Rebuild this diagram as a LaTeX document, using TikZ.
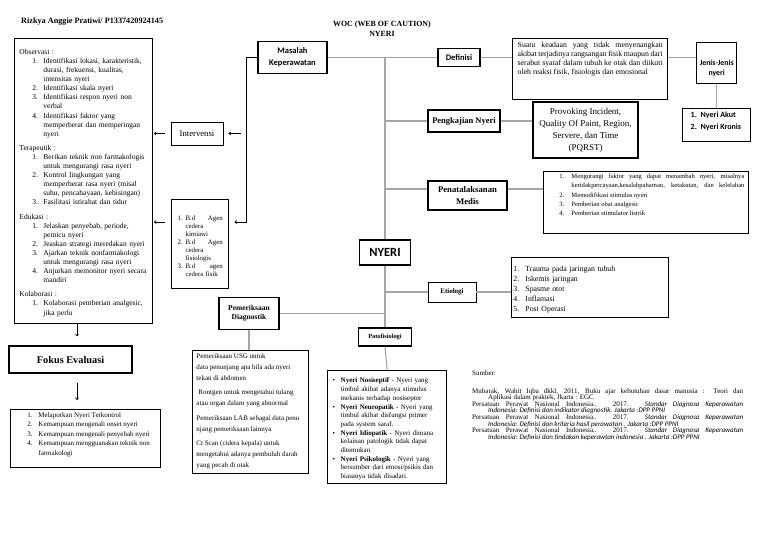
\documentclass[tikz,border=0pt]{standalone}
\usepackage{fontspec}
\setmainfont{Liberation Serif}
\newfontfamily\calibri{Carlito}
\usetikzlibrary{arrows.meta}
\definecolor{linegray}{RGB}{165,165,165}
\newcommand{\fsz}[2]{\fontsize{#1}{#2}\selectfont}
\newlength{\listind}
\newlength{\numw}
\newcommand{\lsec}[1]{\par\leftskip=0pt\noindent#1}
\newcommand{\litem}[2]{\par\leftskip=\listind\noindent\llap{\makebox[\numw][l]{#1}}#2}
\newcommand{\topfill}[3]{\begin{minipage}[c][#2][t]{#1}#3\end{minipage}}
\newcommand{\refit}[1]{{\calibri\itshape #1}}

\begin{document}
\begin{tikzpicture}[x=1pt, y=-1pt,
  box/.style={draw, line width=0.9pt, inner sep=0pt},
  boldbox/.style={draw, line width=1.4pt, inner sep=0pt},
  gline/.style={draw=linegray, line width=1.1pt},
  bline/.style={draw=black, line width=0.7pt},
  arr/.style={bline, -{To[length=2.6pt,width=3.6pt]}}]
\useasboundingbox (0,0) rectangle (768,543);

% header
\node[anchor=west, inner sep=0pt, font=\bfseries\fsz{8.2}{10}] (author) at (21,22) {Rizkya Anggie Pratiwi/ P1337420924145};
\node[align=center, font=\bfseries\fsz{7.9}{10}] (title) at (382,29) {WOC (WEB OF CAUTION)\\NYERI};

% main column
\node[boldbox, minimum width=69pt, minimum height=32pt, align=center, font=\calibri\bfseries\fsz{8.5}{12}] (masalah) at (292.5,57.5) {Masalah\\Keperawatan};
\node[boldbox, minimum width=42pt, minimum height=18pt, font=\calibri\bfseries\fsz{8.5}{10}] (defn) at (459,57.5) {Definisi};
\node[boldbox, anchor=north west, inner xsep=5pt, inner ysep=0pt, font=\fsz{7.8}{9}] (suatu) at (512,38) {\topfill{145pt}{61pt}{\vspace*{3pt}Suatu keadaan yang tidak menyenangkan\linebreak akibat terjadinya rangsangan fisik maupun dari\linebreak serabut syaraf dalam tubuh ke otak dan diikuti\linebreak oleh reaksi fisik, fisiologis dan emosional}};
\node[boldbox, anchor=north west, font=\calibri\bfseries\fsz{7.8}{10}] (jenis) at (696,42) {\topfill{40pt}{41pt}{\vspace*{17pt}\centering Jenis-Jenis\\nyeri\par}};
\node[boldbox, anchor=north west, inner xsep=8pt, inner ysep=0pt, font=\calibri\bfseries\fsz{8}{12}] (akut) at (682,108) {\topfill{52pt}{33pt}{\vspace*{3pt}\setlength{\listind}{10pt}\setlength{\numw}{10pt}%
\litem{1.}{Nyeri Akut}
\litem{2.}{Nyeri Kronis}\par}};
\node[boldbox, minimum width=72pt, minimum height=22pt, font=\bfseries\fsz{8.5}{10}] (pengkajian) at (464,121) {Pengkajian Nyeri};
\node[boldbox, minimum width=105pt, minimum height=56pt, align=center, font=\fsz{9}{12}] (pqrst) at (585.5,130) {Provoking Incident,\\Quality Of Paint, Region,\\Servere, dan Time\\(PQRST)};
\node[boldbox, minimum width=79pt, minimum height=29pt, align=center, font=\bfseries\fsz{8.7}{12}] (pmedis) at (467.5,195.5) {Penatalaksanan\\Medis};
\node[box, anchor=north west, inner xsep=4pt, inner ysep=0pt, font=\fsz{6.6}{9.3}] (medlist) at (543,171) {\topfill{197pt}{62pt}{\vspace*{2.5pt}\setlength{\listind}{24pt}\setlength{\numw}{12pt}%
\litem{1.}{{\parfillskip=0pt Mengurangi faktor yang dapat menambah nyeri, misalnya\linebreak keridakpercayaan,kesalahpahaman, ketakutan, dan kelelahan\par}}
\litem{2.}{Memodifikasi stimulus nyeri}
\litem{3.}{Pemberian obat analgesic}
\litem{4.}{Pemberian stimulator listrik}\par}};
\node[boldbox, minimum width=51pt, minimum height=25pt, font=\calibri\bfseries\fsz{12.5}{14}] (nyeri) at (385,252.5) {NYERI};
\node[box, minimum width=48pt, minimum height=20pt, font=\bfseries\fsz{7}{9}] (etio) at (452,292) {Etiologi};
\node[box, anchor=north west, text width=153pt, minimum height=60pt, inner xsep=2pt, inner ysep=0pt, align=left, font=\fsz{7.8}{10}] (etiolist) at (511,257) {\setlength{\listind}{12pt}\setlength{\numw}{12pt}%
\litem{1.}{Trauma pada jaringan tubuh}
\litem{2.}{Iskemis jaringan}
\litem{3.}{Spasme otot}
\litem{4.}{Inflamasi}
\litem{5.}{Post Operasi}\par};
\node[boldbox, minimum width=60pt, minimum height=32pt, align=center, font=\bfseries\fsz{7.5}{9}] (periksa) at (249,313.5) {Pemeriksaan\\Diagnostik};
\node[box, anchor=north west, inner xsep=4pt, inner ysep=0pt, font=\fsz{7}{11}] (periksalist) at (192,350) {\topfill{108pt}{123pt}{\vspace*{3pt}Pemeriksaan USG untuk\\ data penunjang apa bila ada nyeri\\ tekan di abdomen\par\vspace{3.5pt}
\hspace*{2pt}Rontgen untuk mengetahui tulang\\ atau organ dalam yang abnormal\par\vspace{3.5pt}
Pemeriksaan LAB sebagai data penu\\ njang pemeriksaan lainnya\par\vspace{3.5pt}
Ct Scan (cidera kepala) untuk\\ mengetahui adanya pembuluh darah\\ yang pecah di otak}};
\node[boldbox, minimum width=53pt, minimum height=18pt, font=\bfseries\fsz{6.3}{8}] (pato) at (385,337) {Patofisiologi};
\node[boldbox, anchor=north west, text width=109pt, minimum height=113pt, inner xsep=5pt, inner ysep=0pt, align=left, font=\fsz{7}{8.7}] (patolist) at (327,370) {\setlength{\listind}{8pt}\setlength{\numw}{8pt}%
\litem{\textbullet}{\textbf{Nyeri Nosiseptif} - Nyeri yang\\ timbul akibat adanya stimulus\\ mekanis terhadap nosiseptor}
\litem{\textbullet}{\textbf{Nyeri Neuropatik} - Nyeri yang\\ timbul akibat disfungsi primer\\ pada system saraf.}
\litem{\textbullet}{\textbf{Nyeri Idiopatik} - Nyeri dimana\\ kelainan patologik tidak dapat\\ ditemukan}
\litem{\textbullet}{\textbf{Nyeri Psikologik} - Nyeri yang\\ bersumber dari emosi/psikis dan\\ biasanya tidak disadari.}\par};

% left column
\node[box, anchor=north west, text width=128pt, minimum height=285pt, inner xsep=5pt, inner ysep=0pt, align=left, font=\fsz{7.5}{9.1}] (leftbox) at (14,38) {\setlength{\listind}{24pt}\setlength{\numw}{11pt}%
\lsec{Observasi :}
\litem{1.}{Identifikasi lokasi, karakteristik,\\ durasi, frekuensi, kualitas,\\ intensitas nyeri}
\litem{2.}{Identifikasi skala nyeri}
\litem{3.}{Identifikasi respon nyeri non\\ verbal}
\litem{4.}{Identifikasi faktor yang\\ memperberat dan memperingan\\ nyeri}
\par\vspace{5pt}
\lsec{Terapeutik :}
\litem{1.}{Berikan teknik non farmakologis\\ untuk mengurangi rasa nyeri}
\litem{2.}{Kontrol lingkungan yang\\ memperberat rasa nyeri (misal\\ suhu, pencahayaan, kebisingan)}
\litem{3.}{Fasilitasi istirahat dan tidur}
\par\vspace{5pt}
\lsec{Edukasi :}
\litem{1.}{Jelaskan penyebab, periode,\\ pemicu nyeri}
\litem{2.}{Jeaskan strategi meredakan nyeri}
\litem{3.}{Ajarkan teknik nonfarmakologi\\ untuk mengurangi rasa nyeri}
\litem{4.}{Anjurkan memonitor nyeri secara\\ mandiri}
\par\vspace{5pt}
\lsec{Kolaborasi :}
\litem{1.}{Kolaborasi pemberian analgesic,\\ jika perlu}\par};
\node[box, minimum width=52pt, minimum height=23pt, font=\fsz{8.7}{10}] (interv) at (197,133.5) {Intervensi};
\node[boldbox, anchor=north west, text width=45pt, minimum height=89pt, inner xsep=6pt, inner ysep=0pt, align=left, font=\fsz{6.8}{8}] (diag) at (171,199) {\setlength{\listind}{8pt}\setlength{\numw}{8pt}%
\litem{1.}{B.d\hfill Agen\\ cedera\\ kimiawi}
\litem{2.}{B.d\hfill Agen\\ cedera\\ fisiologis}
\litem{3.}{B.d\hfill agen\\ cedera fisik}\par};
\node[boldbox, minimum width=123pt, minimum height=27pt, font=\bfseries\fsz{10.3}{12}] (fokus) at (70.5,359.5) {Fokus Evaluasi};
\node[box, anchor=north west, inner xsep=4pt, inner ysep=0pt, font=\fsz{7}{9.5}] (evallist) at (10,409) {\topfill{142pt}{58pt}{\vspace*{3pt}\raggedright\setlength{\listind}{24pt}\setlength{\numw}{11pt}%
\litem{1.}{Melaporkan Nyeri Terkontrol}
\litem{2.}{Kemampuan mengenali onset nyeri}
\litem{3.}{Kemampuan mengenali penyebab nyeri}
\litem{4.}{Kemampuan mengguanakan teknik non\\ farmakologi}\par}};

% sources
\node[anchor=west, inner sep=0pt, font=\fsz{7}{8}] (sumber) at (472,373) {Sumber:};
\node[anchor=north west, text width=271pt, inner sep=0pt, align=justify, font=\fsz{7}{6.6}] (refs) at (472,388) {\lineskiplimit=-5pt
\noindent\hangindent=16pt\hangafter=1 Mubarak, Wahit Iqba dkkl, 2011, Buku ajar kebutuhan dasar manusia : Teori dan\linebreak Aplikasi dalam praktek, Jkarta : EGC\par
\noindent\hangindent=16pt\hangafter=1 Persatuan Perawat Nasional Indonesia.. 2017. \refit{Standar Diagnosa Keperawatan\linebreak Indonesia: Definisi dan indikator diagnostik. Jakarta :DPP PPNI}\par
\noindent\hangindent=16pt\hangafter=1 Persatuan Perawat Nasional Indonesia.. 2017. \refit{Standar Diagnosa Keperawatan\linebreak Indonesia: Definisi dan kriteria hasil perawatan . Jakarta :DPP PPNI}\par
\noindent\hangindent=16pt\hangafter=1 Persatuan Perawat Nasional Indonesia.. 2017. \refit{Standar Diagnosa Keperawatan\linebreak Indonesia: Definisi dan tindakan keperawtan indonesia . Jakarta :DPP PPNI}\par};

% grey tree
\coordinate (vtop) at (385,57.5);
\coordinate (vmed) at (385,189);
\draw[gline] (masalah.east) -- (defn.west);
\draw[gline] (vtop) -- (nyeri.north);
\draw[gline] (defn.east) -- (defn.east -| suatu.west);
\draw[gline] (suatu.east |- defn) -- (jenis.west |- defn);
\draw[gline] (jenis.south) -- (jenis.south |- akut.north);
\draw[gline] (vtop |- pengkajian) -- (pengkajian.west);
\draw[gline] (pengkajian.east) -- (pengkajian.east -| pqrst.west);
\draw[gline] (vmed) -- (vmed -| pmedis.west);
\draw[gline] (vmed -| pmedis.east) -- (vmed -| medlist.west);
\draw[gline] (vtop |- etio) -- (etio.west);
\draw[gline] (etio.east) -- (etio.east -| etiolist.west);
\draw[gline] (vtop |- periksa) -- (periksa.east);
\draw[gline] (periksa.south) -- (periksa.south |- periksalist.north);
\draw[gline] (nyeri.south) -- (pato.north);
\draw[gline] (pato.south) -- (patolist.north);

% black arrows on the left
\coordinate (lbend) at (246,57.5);
\coordinate (lfoot) at (246,222);
\coordinate (evx) at (77,0);
\draw[arr, shorten >=5pt] (masalah.west) -- (lbend) -- (lfoot) -- (lfoot -| diag.east);
\draw[arr, shorten <=5pt, shorten >=5pt] (lbend |- interv) -- (interv.east);
\draw[arr, shorten <=6pt, shorten >=1pt] (interv.west) -- (interv.west -| leftbox.east);
\draw[arr, shorten <=6pt, shorten >=1pt] (lfoot -| diag.west) -- (lfoot -| leftbox.east);
\draw[arr, shorten >=9pt] (leftbox.south -| evx) -- (fokus.north -| evx);
\draw[arr, shorten <=9pt, shorten >=9pt] (fokus.south -| evx) -- (evallist.north -| evx);
\end{tikzpicture}
\end{document}
